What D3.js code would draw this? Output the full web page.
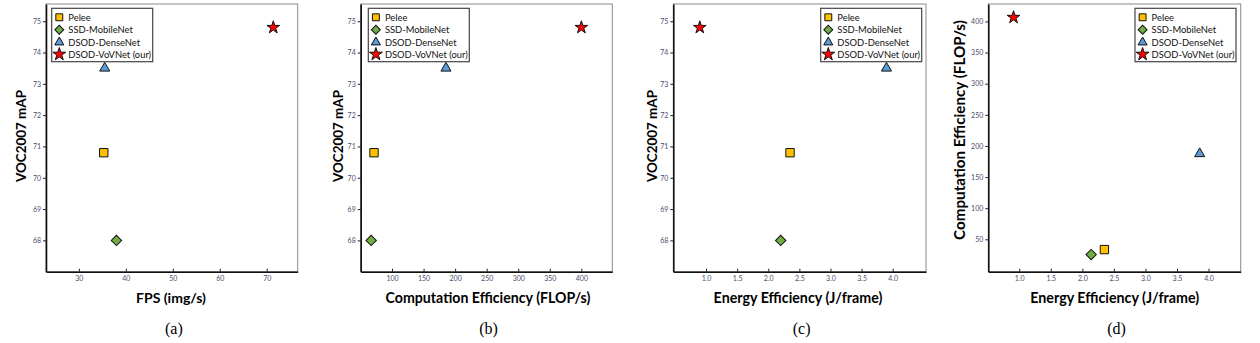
<!DOCTYPE html>
<html><head><meta charset="utf-8">
<script src="https://cdn.jsdelivr.net/npm/d3@7"></script>
<style>body{margin:0;background:#fff}svg{display:block}</style>
</head><body>
<script>
// Data
const models = ["Pelee", "SSD-MobileNet", "DSOD-DenseNet", "DSOD-VoVNet (our)"];
const mAP = [70.8, 68.0, 73.5, 74.8];
const fps = [35.3, 38.0, 35.5, 71.4];
const flopsB = [71.5, 67, 185.5, 400];
const energyC = [2.35, 2.2, 3.9, 0.9];
const energyD = [2.35, 2.14, 3.86, 0.91];
const flopsD = [33.5, 25.5, 187.5, 406.5];
const ticksA = [30, 40, 50, 60, 70];
const ticksB = [100, 150, 200, 250, 300, 350, 400];
const ticksE = [1.0, 1.5, 2.0, 2.5, 3.0, 3.5, 4.0];
const ticksMAP = [68, 69, 70, 71, 72, 73, 74, 75];
const ticksFlopsY = [50, 100, 150, 200, 250, 300, 350, 400];
const captions = ["(a)", "(b)", "(c)", "(d)"];

const fills = ["#FFC000", "#70AD47", "#5B9BD5", "#FF0000"];

const W = 1260, H = 343;
const svg = d3.select("body").append("svg").attr("width", W).attr("height", H);

const panels = [
  {L:46, R:297.7, xd:[23,76.6], yd:[67,75.55], xs:fps, ys:mAP, xt:ticksA, yt:ticksMAP, xf:d3.format("d"), yf:d3.format("d"),
   xl:"FPS (img/s)", yl:"VOC2007 mAP", xw:70, yw:92, xc:171, legLeft:true, legOff:5.7, ylOff:25, ylY:136},
  {L:360.7, R:612.3, xd:[50.4,449], yd:[67,75.55], xs:flopsB, ys:mAP, xt:ticksB, yt:ticksMAP, xf:d3.format("d"), yf:d3.format("d"),
   xl:"Computation Efficiency (FLOP/s)", yl:"VOC2007 mAP", xw:205, yw:92, xc:488, legLeft:true, legOff:7.6, ylOff:22.7, ylY:136},
  {L:673.3, R:926, xd:[0.474,4.535], yd:[67,75.55], xs:energyC, ys:mAP, xt:ticksE, yt:ticksMAP, xf:d3.format(".1f"), yf:d3.format("d"),
   xl:"Energy Efficiency (J/frame)", yl:"VOC2007 mAP", xw:169, yw:92, xc:798, legLeft:false, legOff:4.3, ylOff:21.6, ylY:136},
  {L:988.3, R:1240.7, xd:[0.51,4.51], yd:[-2,428], xs:energyD, ys:flopsD, xt:ticksE, yt:ticksFlopsY, xf:d3.format(".1f"), yf:d3.format("d"),
   xl:"Energy Efficiency (J/frame)", yl:"Computation Efficiency (FLOP/s)", xw:169, yw:220, xc:1114.7, legLeft:false, legOff:4.7, ylOff:28.3, ylY:130}
];
const T = 4, B = 271.7;

const symTypes = [d3.symbolSquare, d3.symbolSquare, d3.symbolTriangle, d3.symbolStar];
const plotSizes = [70, 54, 44, 50];
const legSizes = [48, 40, 36, 52];
const rot = [0, 45, 0, 0];

function fitText(sel, base, target) {
  sel.attr("font-size", base);
  const len = sel.node().getComputedTextLength();
  if (len > 0) sel.attr("font-size", base * target / len);
}

panels.forEach((p, i) => {
  const g = svg.append("g");
  const x = d3.scaleLinear().domain(p.xd).range([p.L, p.R]);
  const y = d3.scaleLinear().domain(p.yd).range([B, T]);

  g.append("rect").attr("x", p.L).attr("y", T).attr("width", p.R - p.L).attr("height", B - T)
    .attr("fill", "none").attr("stroke", "#8a8a8a").attr("stroke-width", 1);

  const ya = g.append("g").attr("transform", `translate(${p.L},0)`)
    .call(d3.axisLeft(y).tickValues(p.yt).tickFormat(p.yf).tickSize(3).tickPadding(2).tickSizeOuter(0));
  ya.select(".domain").attr("stroke", "#111").attr("stroke-width", 1.6);
  ya.selectAll(".tick line").attr("stroke", "#222");
  ya.selectAll(".tick text").attr("font-family", "Lato, sans-serif").attr("font-size", 7).attr("fill", "#4a4e6e");

  const xa = g.append("g").attr("transform", `translate(0,${B})`)
    .call(d3.axisBottom(x).tickValues(p.xt).tickFormat(p.xf).tickSize(-3).tickPadding(4).tickSizeOuter(0));
  xa.select(".domain").attr("stroke", "#111").attr("stroke-width", 1.6);
  xa.selectAll(".tick line").attr("stroke", "#222");
  xa.selectAll(".tick text").attr("font-family", "Lato, sans-serif").attr("font-size", 7).attr("fill", "#4a4e6e");

  const xt = g.append("text").attr("x", p.xc).attr("y", 302.5).attr("text-anchor", "middle")
    .attr("font-family", "Lato, sans-serif").attr("font-weight", "bold").attr("fill", "#000")
    .text(p.xl);
  fitText(xt, 14, p.xw);
  const yt = g.append("text").attr("transform", `translate(${p.L - p.ylOff + 5},${p.ylY}) rotate(-90)`).attr("text-anchor", "middle")
    .attr("font-family", "Lato, sans-serif").attr("font-weight", "bold").attr("fill", "#000")
    .text(p.yl);
  fitText(yt, 14, p.yw);

  g.append("text").attr("x", (p.L + p.R) / 2 + 2).attr("y", 334).attr("text-anchor", "middle")
    .attr("font-family", "'Liberation Serif', serif").attr("font-size", 16).attr("fill", "#000")
    .text(captions[i]);

  models.forEach((m, k) => {
    g.append("path")
      .attr("d", d3.symbol().type(symTypes[k]).size(plotSizes[k])())
      .attr("transform", `translate(${x(p.xs[k])},${y(p.ys[k])}) rotate(${rot[k]})`)
      .attr("fill", fills[k]).attr("stroke", "#111").attr("stroke-width", 1);
  });

  const lw = 101, lh = 53.4;
  const lx = p.legLeft ? p.L + p.legOff : p.R - p.legOff - lw;
  const ly = 8.3;
  const lg = g.append("g");
  lg.append("rect").attr("x", lx).attr("y", ly).attr("width", lw).attr("height", lh)
    .attr("fill", "#fff").attr("stroke", "#444").attr("stroke-width", 1.2);
  const rows = [17.3, 29.7, 42.3, 54.3];
  const probe = lg.append("text").attr("font-family", "Lato, sans-serif").attr("font-size", 10).text(models[3]);
  const fs = 10 * 83 / probe.node().getComputedTextLength();
  probe.remove();
  models.forEach((m, k) => {
    lg.append("path")
      .attr("d", d3.symbol().type(symTypes[k]).size(legSizes[k])())
      .attr("transform", `translate(${lx + 7.6},${rows[k]}) rotate(${rot[k]})`)
      .attr("fill", fills[k]).attr("stroke", "#111").attr("stroke-width", 1);
    lg.append("text").attr("x", lx + 16.6).attr("y", rows[k] + 3.5)
      .attr("font-family", "Lato, sans-serif").attr("font-size", fs).attr("fill", "#111")
      .text(m);
  });
});
</script>
</body></html>
